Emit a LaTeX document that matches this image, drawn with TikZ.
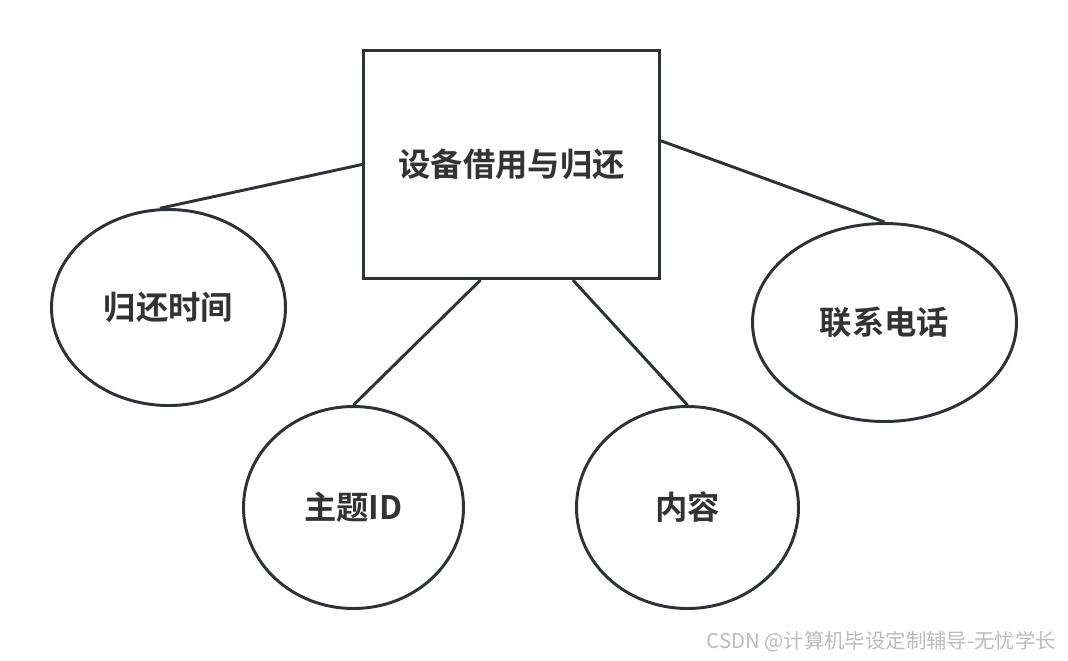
\documentclass[tikz,border=0pt]{standalone}
\usepackage{fontspec}
\setmainfont{Noto Sans CJK SC}
\newfontfamily\cjkbold{Noto Sans CJK SC Bold}
\usetikzlibrary{shapes.geometric}
\definecolor{cline}{HTML}{2E3236}
\definecolor{ctext}{HTML}{333333}
\definecolor{cmark}{HTML}{BBBBBB}
\tikzset{
  every picture/.style={line width=2.1pt},
  entity/.style={draw=cline, rectangle, inner sep=0pt, minimum width=7.4cm, minimum height=5.7cm,
    font=\cjkbold\fontsize{23}{28}\selectfont, text=ctext},
  attr/.style={draw=cline, ellipse, inner sep=0pt, font=\cjkbold\fontsize{23}{28}\selectfont, text=ctext},
  link/.style={draw=cline, line width=2.1pt},
  watermark/.style={font=\fontsize{14.5}{17}\selectfont, text=cmark, anchor=east},
}
\begin{document}
\begin{tikzpicture}
  \useasboundingbox (0,0) rectangle (26.7,-16.5);
  \node[entity] (rel) at (12.7875,-4.1125) {设备借用与归还};
  \node[attr, minimum width=5.85cm, minimum height=4.9cm] (time) at (4.2125,-7.6875) {归还时间};
  \node[attr, minimum width=5.5cm, minimum height=5.05cm] (tid) at (8.8375,-12.6875) {主题ID};
  \node[attr, minimum width=5.55cm, minimum height=5.05cm] (body) at (17.1875,-12.6875) {内容};
  \node[attr, minimum width=6.6cm, minimum height=4.95cm] (tel) at (22.1125,-8.0625) {联系电话};
  % connectors
  \draw[link] (rel.west) -- (time.95);
  \draw[link] (rel.255) -- (tid.north);
  \draw[link] (rel.298) -- (body.north);
  \draw[link] (rel.9) -- (tel.north);
  \node[watermark] (wm) at (26.55,-16.05) {CSDN @计算机毕设定制辅导-无忧学长};
\end{tikzpicture}
\end{document}
